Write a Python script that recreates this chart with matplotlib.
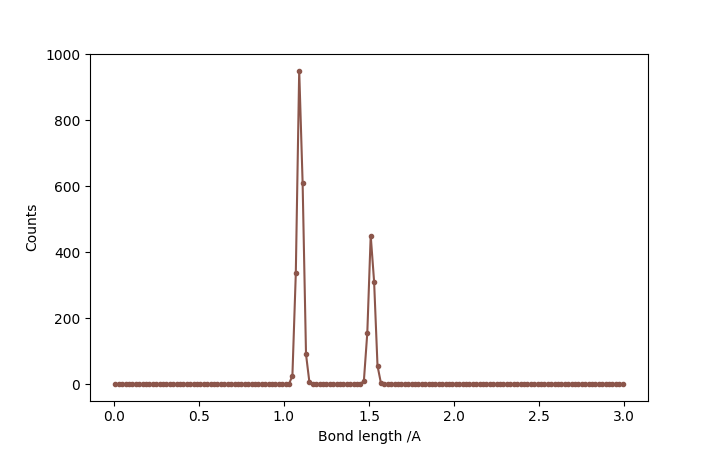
import numpy as np
import matplotlib
matplotlib.use("Agg")
import matplotlib.pyplot as plt

# bond length histogram, 0.02 A bins from 0 to 3 A
bin_centres = np.arange(0.01, 3.0, 0.02)
peak_values = {
    1.05: 25, 1.07: 335, 1.09: 950, 1.11: 610, 1.13: 90, 1.15: 5,
    1.47: 10, 1.49: 155, 1.51: 450, 1.53: 310, 1.55: 55, 1.57: 3,
}
counts = np.zeros(len(bin_centres))
for centre, value in peak_values.items():
    counts[int(round((centre - 0.01) / 0.02))] = value

fig, ax = plt.subplots(figsize=(7.2, 4.5), dpi=100)
ax.plot(bin_centres, counts, marker=".", color="tab:brown")
ax.set_xlabel("Bond length /A")
ax.set_ylabel("Counts")
ax.set_ylim(-50, 1000)
fig.savefig("out.png")
